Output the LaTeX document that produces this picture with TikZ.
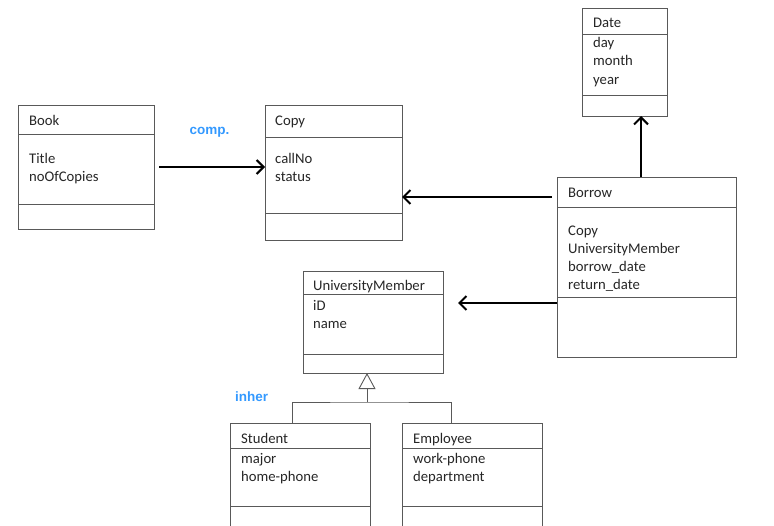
\documentclass[tikz,border=0pt]{standalone}
\usepackage{fontspec}
\setmainfont{Carlito}
\newfontfamily\lblfont{Liberation Sans}
\usetikzlibrary{arrows.meta}
\definecolor{linegray}{rgb}{0.35,0.35,0.35}
\definecolor{textgray}{rgb}{0.15,0.15,0.15}
\definecolor{lblblue}{rgb}{0.2,0.6,1.0}

\begin{document}
\begin{tikzpicture}[x=1pt,y=-1pt,
  cls/.style={draw=linegray,line width=0.9pt,anchor=north west,inner sep=0pt,outer sep=0pt},
  sep/.style={draw=linegray,line width=0.9pt},
  txt/.style={anchor=north west,inner sep=0pt,align=left,text=textgray,execute at begin node=\strut,font=\fontsize{14.7}{18.3}\selectfont},
  lbl/.style={text=lblblue,font=\lblfont\bfseries\fontsize{13.5}{16}\selectfont},
  arr/.style={-{Straight Barb[length=7pt,width=14pt,line width=2pt]},line width=2.5pt}]
\useasboundingbox (0,0) rectangle (774,525);

% class boxes
\node[cls,minimum width=136pt,minimum height=124pt] (book) at (18,105) {};
\node[cls,minimum width=137pt,minimum height=135pt] (copy) at (265,105) {};
\node[cls,minimum width=85pt,minimum height=108pt] (date) at (582,8) {};
\node[cls,minimum width=179pt,minimum height=180pt] (borrow) at (557,177) {};
\node[cls,minimum width=140pt,minimum height=102pt] (um) at (303,271) {};
\node[cls,minimum width=140pt,minimum height=110pt] (student) at (230,423) {};
\node[cls,minimum width=140pt,minimum height=110pt] (employee) at (402,423) {};

% compartments
\draw[sep] ([yshift=-29pt]book.north west) -- ([yshift=-29pt]book.north east);
\draw[sep] ([yshift=-99pt]book.north west) -- ([yshift=-99pt]book.north east);
\draw[sep] ([yshift=-32pt]copy.north west) -- ([yshift=-32pt]copy.north east);
\draw[sep] ([yshift=-108pt]copy.north west) -- ([yshift=-108pt]copy.north east);
\draw[sep] ([yshift=-26pt]date.north west) -- ([yshift=-26pt]date.north east);
\draw[sep] ([yshift=-87pt]date.north west) -- ([yshift=-87pt]date.north east);
\draw[sep] ([yshift=-30pt]borrow.north west) -- ([yshift=-30pt]borrow.north east);
\draw[sep] ([yshift=-120pt]borrow.north west) -- ([yshift=-120pt]borrow.north east);
\draw[sep] ([yshift=-23pt]um.north west) -- ([yshift=-23pt]um.north east);
\draw[sep] ([yshift=-83pt]um.north west) -- ([yshift=-83pt]um.north east);
\draw[sep] ([yshift=-25pt]student.north west) -- ([yshift=-25pt]student.north east);
\draw[sep] ([yshift=-83pt]student.north west) -- ([yshift=-83pt]student.north east);
\draw[sep] ([yshift=-25pt]employee.north west) -- ([yshift=-25pt]employee.north east);
\draw[sep] ([yshift=-83pt]employee.north west) -- ([yshift=-83pt]employee.north east);

% names and attributes
\node[txt] (bookname) at ([shift={(11,7.2)}]book.north west) {Book};
\node[txt] (bookattr) at ([shift={(11,48)}]book.north west) {Title\\noOfCopies};
\node[txt] (copyname) at ([shift={(10,7.2)}]copy.north west) {Copy};
\node[txt] (copyattr) at ([shift={(10,48)}]copy.north west) {callNo\\status};
\node[txt] (datename) at ([shift={(11,6.5)}]date.north west) {Date};
\node[txt] (dateattr) at ([shift={(11,29)}]date.north west) {day\\month\\year};
\node[txt] (borrowname) at ([shift={(11,7.5)}]borrow.north west) {Borrow};
\node[txt] (borrowattr) at ([shift={(11,48.3)}]borrow.north west) {Copy\\UniversityMember\\borrow\_date\\return\_date};
\node[txt] (umname) at ([shift={(10,6.9)}]um.north west) {UniversityMember};
\node[txt] (umattr) at ([shift={(10,29.3)}]um.north west) {iD\\name};
\node[txt] (studentname) at ([shift={(11,7.9)}]student.north west) {Student};
\node[txt] (studentattr) at ([shift={(11,29.7)}]student.north west) {major\\home-phone};
\node[txt] (employeename) at ([shift={(11,7.9)}]employee.north west) {Employee};
\node[txt] (employeeattr) at ([shift={(11,29.7)}]employee.north west) {work-phone\\department};

% associations
\draw[arr,shorten <=5pt] (book.east) -- (copy.west |- book.east);
\draw[arr,shorten <=5pt] ([yshift=-20pt]borrow.north west) -- ([yshift=-20pt]borrow.north west -| copy.east);
\draw[arr,shorten >=15pt] ([yshift=-126pt]borrow.north west) -- ([yshift=-126pt]borrow.north west -| um.east);
\draw[arr] ([xshift=-5.5pt]borrow.north) -- ([xshift=-5.5pt]borrow.north |- date.south);

% inheritance
\coordinate (gen) at ([xshift=-6pt,yshift=-29pt]um.south);
\draw[sep] ([xshift=-8pt]student.north) |- (gen) -| ([xshift=-21pt]employee.north);
\draw[sep,-{Triangle[open,length=16pt,width=17pt,line width=0.9pt]}] (gen) -- (um.south -| gen);

\node[lbl] (comp) at (209.5,132) {comp.};
\node[lbl] (inher) at (251.5,397) {inher};
\end{tikzpicture}
\end{document}
